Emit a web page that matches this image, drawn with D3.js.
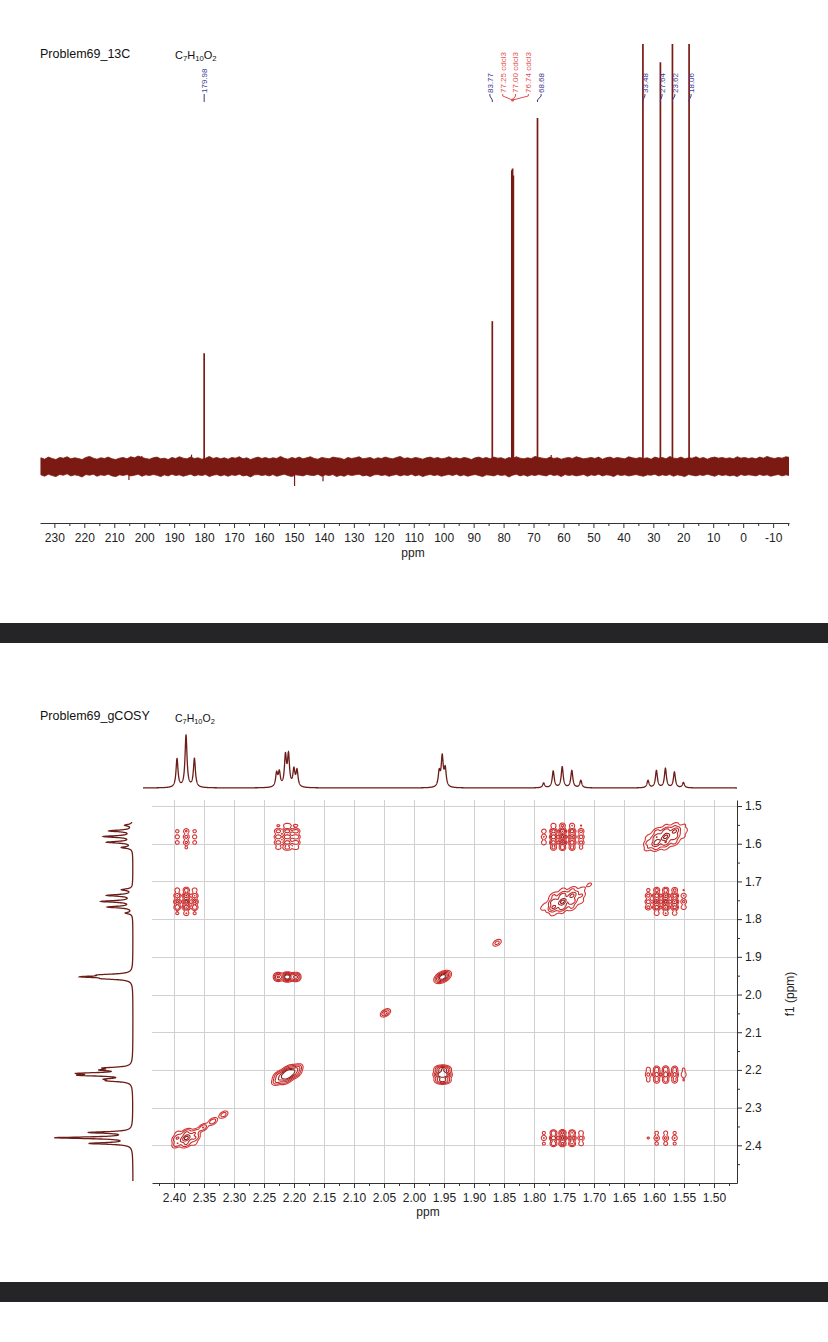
<!DOCTYPE html>
<html>
<head>
<meta charset="utf-8">
<script src="https://cdn.jsdelivr.net/npm/d3@7"></script>
<style>
  body { margin: 0; background: #fff; }
  svg { display: block; font-family: "Liberation Sans", Arial, Helvetica, sans-serif; }
</style>
</head>
<body>
<svg id="chart" width="828" height="1342"></svg>
<script>
// ---- 13C spectrum data ----
const carbonPpm = [179.98, 83.77, 77.25, 77.00, 76.74, 68.68, 33.48, 27.64, 23.62, 18.06];
const carbonInt = [32.5, 41.7, 85.0, 85.5, 83.5, 100, 200, 116, 190, 180];
const carbonSolvent = [false, false, true, true, true, false, false, false, false, false];
const carbonTicks = [230, 220, 210, 200, 190, 180, 170, 160, 150, 140, 130, 120, 110, 100, 90, 80, 70, 60, 50, 40, 30, 20, 10, 0, -10];

// noise envelope, one value every 1.25 ppm starting at 234.5 ppm
const noiseStart = 234.5;
const noiseStep = 1.25;
const noiseUpper = [
  2.5, 2.1, 2.7, 2.3, 2.0, 2.6, 2.4, 2.8, 2.2, 2.5,
  2.3, 2.0, 2.6, 2.9, 2.4, 2.1, 2.5, 2.3, 2.7, 2.2,
  2.0, 2.4, 2.6, 2.2, 2.8, 2.5, 3.0, 2.6, 2.3, 2.1,
  2.5, 2.7, 2.2, 2.4, 2.0, 2.6, 2.3, 2.8, 2.4, 2.2,
  2.7, 2.3, 2.5, 2.1, 2.4, 2.9, 2.3, 2.6, 2.2, 2.5,
  2.1, 2.6, 2.4, 2.8, 2.2, 2.5, 2.0, 2.4, 2.7, 2.3,
  2.6, 2.2, 2.5, 2.3, 2.9, 2.4, 2.1, 2.6, 2.3, 2.7,
  2.2, 2.5, 2.8, 2.3, 2.1, 2.6, 2.4, 2.2, 2.7, 2.5,
  2.4, 2.0, 2.6, 2.3, 2.5, 2.8, 2.2, 2.4, 2.6, 2.1,
  2.5, 2.3, 2.7, 2.4, 2.2, 2.6, 2.9, 2.3, 2.5, 2.2,
  2.6, 2.4, 2.1, 2.5, 2.7, 2.3, 2.6, 2.2, 2.4, 2.8,
  2.3, 2.5, 2.2, 2.6, 2.4, 2.0, 2.5, 2.7, 2.3, 2.6,
  2.2, 2.7, 2.4, 2.5, 2.1, 2.6, 2.3, 2.8, 2.4, 2.2,
  2.5, 2.3, 2.9, 2.6, 2.4, 2.2, 2.7, 2.3, 2.5, 2.1,
  2.4, 2.6, 2.3, 2.8, 2.5, 2.2, 2.4, 2.6, 2.3, 2.7,
  2.1, 2.5, 2.7, 2.3, 2.6, 2.4, 2.2, 2.8, 2.5, 2.3,
  2.6, 2.3, 2.5, 2.1, 2.7, 2.4, 2.6, 2.2, 2.9, 2.4,
  2.3, 2.7, 2.2, 2.5, 2.4, 2.8, 2.3, 2.6, 2.1, 2.5,
  2.7, 2.4, 2.6, 2.3, 2.5, 2.2, 2.8, 2.4, 2.6, 2.3,
  2.5, 2.2, 2.7, 2.4, 2.9, 2.5, 2.3, 2.6, 2.4, 2.8,
  2.6
];
const noiseLower = [
  -2.4, -2.8, -2.2, -2.6, -2.9, -2.3, -2.5, -2.1, -2.7, -2.4,
  -2.6, -3.0, -2.3, -2.5, -2.2, -2.8, -2.4, -2.6, -2.2, -2.7,
  -2.9, -2.4, -2.6, -2.3, -2.7, -2.5, -2.2, -2.8, -2.4, -2.6,
  -2.3, -2.5, -2.9, -2.4, -2.7, -2.2, -2.6, -2.4, -2.8, -2.5,
  -2.2, -2.7, -2.4, -2.6, -2.3, -2.9, -2.5, -2.3, -2.7, -2.4,
  -2.8, -2.4, -2.6, -2.2, -2.7, -2.5, -3.0, -2.4, -2.3, -2.6,
  -2.4, -2.7, -2.3, -2.8, -2.5, -2.2, -2.6, -2.9, -2.4, -2.5,
  -2.7, -2.3, -2.5, -2.6, -2.2, -2.8, -2.4, -2.6, -2.3, -2.9,
  -2.5, -2.8, -2.3, -2.6, -2.4, -2.2, -2.7, -2.5, -2.9, -2.4,
  -2.3, -2.6, -2.4, -2.8, -2.5, -2.3, -2.7, -2.4, -2.6, -2.2,
  -2.7, -2.4, -2.9, -2.5, -2.3, -2.6, -2.4, -2.8, -2.5, -2.3,
  -2.6, -2.2, -2.7, -2.4, -2.8, -2.5, -2.3, -2.6, -2.9, -2.4,
  -2.5, -2.7, -2.3, -2.6, -2.4, -3.0, -2.5, -2.2, -2.7, -2.4,
  -2.8, -2.4, -2.6, -2.3, -2.5, -2.7, -2.2, -2.6, -2.4, -2.9,
  -2.3, -2.6, -2.4, -2.7, -2.5, -2.3, -2.8, -2.4, -2.6, -2.2,
  -2.7, -2.4, -2.5, -2.9, -2.3, -2.6, -2.4, -2.7, -2.5, -2.3,
  -2.6, -2.8, -2.4, -2.5, -2.2, -2.7, -2.4, -2.6, -2.3, -2.8,
  -2.4, -2.6, -2.9, -2.3, -2.5, -2.7, -2.4, -2.6, -2.2, -2.5,
  -2.8, -2.3, -2.6, -2.4, -2.7, -2.5, -2.9, -2.3, -2.6, -2.4,
  -2.5, -2.7, -2.3, -2.6, -2.4, -2.8, -2.5, -2.3, -2.7, -2.4,
  -2.6
];
const noiseSpikePpm = [205.1, 200.8, 184.2, 149.8, 140.3, 64.1];
const noiseSpikeInt = [-3.9, 3.0, 3.4, -5.6, -4.2, 3.3];

// ---- 1H multiplets (COSY projections) ----
const hA_ppm = [2.395, 2.380, 2.366];
const hA_int = [0.55, 1.00, 0.55];
const hB_ppm = [2.229, 2.2245, 2.2143, 2.2092, 2.2002, 2.1950];
const hB_int = [0.26, 0.27, 0.58, 0.59, 0.32, 0.31];
const hC_ppm = [1.958, 1.953, 1.948];
const hC_int = [0.28, 0.57, 0.34];
const hD_ppm = [1.784, 1.768, 1.753, 1.737, 1.722];
const hD_int = [0.09, 0.32, 0.40, 0.33, 0.14];
const hE_ppm = [1.610, 1.596, 1.581, 1.566, 1.551];
const hE_int = [0.14, 0.33, 0.37, 0.30, 0.10];

// cross peaks: f2 multiplet, f1 multiplet, strength
const crossF2 = ["D", "E", "A", "D", "E", "B", "B", "C", "A", "E"];
const crossF1 = ["E", "D", "D", "A", "B", "E", "C", "B", "E", "A"];
const crossAmp = [1.0, 1.0, 1.0, 1.0, 0.45, 0.55, 0.8, 0.8, 0.3, 0.28];
const diagIds = ["A", "B", "C", "D", "E"];
const diagAmp = [1.4, 1.2, 0.8, 1.4, 1.4];
const diagSingletPpm = [2.352, 2.336, 2.318, 2.048, 1.862, 1.708];
const diagSingletAmp = [0.45, 0.4, 0.35, 0.55, 0.3, 0.12];

const cosyF2Ticks = [2.40, 2.35, 2.30, 2.25, 2.20, 2.15, 2.10, 2.05, 2.00, 1.95, 1.90, 1.85, 1.80, 1.75, 1.70, 1.65, 1.60, 1.55, 1.50];
const cosyF1Ticks = [1.5, 1.6, 1.7, 1.8, 1.9, 2.0, 2.1, 2.2, 2.3, 2.4];

const svg = d3.select("#chart");
const ink13 = "#7a1a13";
const ink1h = "#6b1d17";
const labelBlue = "#3a3a8f";
const labelRed = "#e05050";
const axisInk = "#222";

function addFormula(x, y, size) {
  const t = svg.append("text").attr("x", x).attr("y", y).attr("font-size", size).attr("fill", "#111");
  const parts = [["C", false], ["7", true], ["H", false], ["10", true], ["O", false], ["2", true]];
  let low = false;
  parts.forEach(([s, sub]) => {
    const sp = t.append("tspan").text(s).attr("font-size", sub ? size * 0.7 : size);
    if (sub && !low) { sp.attr("dy", size * 0.2); low = true; }
    else if (!sub && low) { sp.attr("dy", -size * 0.2); low = false; }
  });
}

// ================= 13C =================
const x13 = d3.scaleLinear().domain([234.8, -15.3]).range([40, 789]);
const y13 = d3.scaleLinear().domain([0, 100]).range([466.5, 118]);

svg.append("text").attr("x", 40).attr("y", 58).attr("font-size", 12.5).attr("fill", "#111").text("Problem69_13C");
addFormula(175, 59, 11);

svg.append("clipPath").attr("id", "clip13")
  .append("rect").attr("x", 40).attr("y", 44).attr("width", 749).attr("height", 460);
const g13 = svg.append("g").attr("clip-path", "url(#clip13)");

const noisePpm = noiseUpper.map((d, i) => noiseStart - noiseStep * i);
g13.append("path")
  .datum(noiseUpper)
  .attr("d", d3.area()
    .x((d, i) => x13(noisePpm[i]))
    .y0((d, i) => y13(noiseLower[i]))
    .y1((d) => y13(d)))
  .attr("fill", ink13)
  .attr("stroke", ink13)
  .attr("stroke-width", 0.8);

g13.selectAll("line.spike")
  .data(noiseSpikePpm)
  .join("line")
  .attr("class", "spike")
  .attr("x1", (d) => x13(d)).attr("x2", (d) => x13(d))
  .attr("y1", y13(0))
  .attr("y2", (d, i) => y13(noiseSpikeInt[i]))
  .attr("stroke", ink13).attr("stroke-width", 1.2);

g13.selectAll("line.peak")
  .data(carbonPpm)
  .join("line")
  .attr("class", "peak")
  .attr("x1", (d) => x13(d)).attr("x2", (d) => x13(d))
  .attr("y1", y13(0))
  .attr("y2", (d, i) => y13(carbonInt[i]))
  .attr("stroke", ink13).attr("stroke-width", 1.7);

// peak labels, pushed apart so they do not overlap
function spreadLabels(xs, gap) {
  const pos = xs.slice();
  for (let it = 0; it < 300; it++) {
    for (let i = 1; i < pos.length; i++) {
      const d = pos[i] - pos[i - 1];
      if (d < gap) {
        const s = (gap - d) / 2;
        pos[i - 1] -= s;
        pos[i] += s;
      }
    }
  }
  return pos;
}
const peakX = carbonPpm.map((d) => x13(d));
const labelX = spreadLabels(peakX, 12.8).map((d, i) => (i === 0 ? d : d + 2));
const labelBase = 93;

carbonPpm.forEach((ppm, i) => {
  const colour = carbonSolvent[i] ? labelRed : labelBlue;
  const txt = carbonSolvent[i] ? `${ppm.toFixed(2)} cdcl3` : ppm.toFixed(2);
  svg.append("text")
    .attr("transform", `translate(${labelX[i] + 2.9},${labelBase}) rotate(-90)`)
    .attr("font-size", 8)
    .attr("fill", colour)
    .text(txt);
  const endX = carbonSolvent[i] ? x13(77.0) : peakX[i];
  svg.append("path")
    .attr("d", `M${labelX[i]},${labelBase + 1}L${labelX[i]},${labelBase + 3}L${endX},${labelBase + 7}` +
      (carbonSolvent[i] ? "" : `L${endX},${labelBase + 9}`))
    .attr("fill", "none")
    .attr("stroke", colour)
    .attr("stroke-width", 1);
});
svg.append("circle").attr("cx", x13(77.0)).attr("cy", labelBase + 7).attr("r", 1.6).attr("fill", labelRed);

svg.append("g").attr("transform", "translate(0,523)")
  .call(d3.axisBottom(x13).tickValues(carbonTicks).tickFormat((d) => String(d)).tickSize(5).tickSizeOuter(0).tickPadding(5));
svg.append("g").attr("transform", "translate(0,523)")
  .call(d3.axisBottom(x13).tickValues(d3.range(225, -16, -10)).tickFormat("").tickSize(3).tickSizeOuter(0))
  .select(".domain").remove();
svg.append("text").attr("x", 413).attr("y", 557).attr("text-anchor", "middle")
  .attr("font-size", 12).attr("fill", axisInk).text("ppm");

// ================= separators =================
svg.append("rect").attr("x", 0).attr("y", 623).attr("width", 828).attr("height", 20).attr("fill", "#252527");
svg.append("rect").attr("x", 0).attr("y", 1282).attr("width", 828).attr("height", 20).attr("fill", "#252527");

// ================= COSY =================
svg.append("text").attr("x", 40).attr("y", 720).attr("font-size", 12.5).attr("fill", "#111").text("Problem69_gCOSY");
addFormula(175, 722, 10.5);

const cosyLeft = 152, cosyRight = 737, cosyTop = 800, cosyBottom = 1183;
const xF2 = d3.scaleLinear().domain([2.4367, 1.4617]).range([cosyLeft, cosyRight]);
const yF1 = d3.scaleLinear().domain([1.484, 2.5]).range([cosyTop, cosyBottom]);

const multiplets = {
  A: { ppm: hA_ppm, int: hA_int },
  B: { ppm: hB_ppm, int: hB_int },
  C: { ppm: hC_ppm, int: hC_int },
  D: { ppm: hD_ppm, int: hD_int },
  E: { ppm: hE_ppm, int: hE_int }
};
const allLines = [];
Object.values(multiplets).forEach((m) => m.ppm.forEach((p, i) => allLines.push([p, m.int[i]])));
function spectrum(ppm, hwhm) {
  let s = 0;
  allLines.forEach(([p, h]) => { const d = ppm - p; s += h * hwhm * hwhm / (d * d + hwhm * hwhm); });
  return s;
}

// grid lines
const gridG = svg.append("g").attr("stroke", "#d0d0d0").attr("stroke-width", 1);
gridG.selectAll("line.v").data(cosyF2Ticks).join("line").attr("class", "v")
  .attr("x1", (d) => Math.round(xF2(d)) + 0.5).attr("x2", (d) => Math.round(xF2(d)) + 0.5)
  .attr("y1", cosyTop).attr("y2", cosyBottom);
gridG.selectAll("line.h").data(cosyF1Ticks).join("line").attr("class", "h")
  .attr("y1", (d) => Math.round(yF1(d)) + 0.5).attr("y2", (d) => Math.round(yF1(d)) + 0.5)
  .attr("x1", cosyLeft).attr("x2", cosyRight);

// top projection
const yTop = d3.scaleLinear().domain([0, 1]).range([788, 736]);
const topPts = d3.range(xF2.invert(143), 1.4617, -0.0002).map((p) => [xF2(p), yTop(spectrum(p, 0.002))]);
svg.append("path").attr("d", d3.line()(topPts)).attr("fill", "none").attr("stroke", ink1h).attr("stroke-width", 1.3);

// left projection
const xLeft = d3.scaleLinear().domain([0, 1]).range([133, 57]);
const leftPts = d3.range(yF1.invert(822), yF1.invert(1181), 0.0003).map((p) => [xLeft(spectrum(p, 0.0026)), yF1(p)]);
svg.append("path").attr("d", d3.line()(leftPts)).attr("fill", "none").attr("stroke", ink1h).attr("stroke-width", 1.3);

// 2D contour map built from the multiplet lines
const spots = [];
const diagVec = (() => {
  const dx = xF2(2) - xF2(1), dy = yF1(2) - yF1(1);
  const n = Math.hypot(dx, dy);
  return [dx / n, dy / n];
})();
crossF2.forEach((a, k) => {
  const m2 = multiplets[a], m1 = multiplets[crossF1[k]];
  const max2 = d3.max(m2.int), max1 = d3.max(m1.int);
  const wide2 = a === "C" ? 3.2 : 1.9;
  m2.ppm.forEach((p2, i) => m1.ppm.forEach((p1, j) => {
    spots.push({ f2: p2, f1: p1, amp: crossAmp[k] * (m2.int[i] / max2) * (m1.int[j] / max1),
      ux: 1, uy: 0, su: wide2, sv: 1.65 });
  }));
});
const diagWeight = [1, 0.6, 0.25];
diagIds.forEach((a, k) => {
  const m = multiplets[a];
  const mx = d3.max(m.int);
  m.ppm.forEach((p2, i) => m.ppm.forEach((p1, j) => {
    const w = diagWeight[Math.abs(i - j)] || 0;
    if (!w) return;
    spots.push({ f2: p2, f1: p1, amp: diagAmp[k] * w * (m.int[i] / mx) * (m.int[j] / mx),
      ux: diagVec[0], uy: diagVec[1], su: 3.4, sv: 1.9 });
  }));
});
diagSingletPpm.forEach((p, k) => {
  spots.push({ f2: p, f1: p, amp: diagSingletAmp[k], ux: diagVec[0], uy: diagVec[1], su: 3.0, sv: 1.8 });
});

const cell = 0.5;
const nx = Math.round((cosyRight - cosyLeft) / cell);
const ny = Math.round((cosyBottom - cosyTop) / cell);
const values = new Float64Array(nx * ny);
spots.forEach((s) => {
  const cx = xF2(s.f2), cy = yF1(s.f1);
  const reach = 4 * Math.max(s.su, s.sv);
  const i0 = Math.max(0, Math.floor((cx - reach - cosyLeft) / cell));
  const i1 = Math.min(nx - 1, Math.ceil((cx + reach - cosyLeft) / cell));
  const j0 = Math.max(0, Math.floor((cy - reach - cosyTop) / cell));
  const j1 = Math.min(ny - 1, Math.ceil((cy + reach - cosyTop) / cell));
  for (let j = j0; j <= j1; j++) {
    const dy = cosyTop + j * cell - cy;
    for (let i = i0; i <= i1; i++) {
      const dx = cosyLeft + i * cell - cx;
      const u = dx * s.ux + dy * s.uy;
      const v = -dx * s.uy + dy * s.ux;
      values[j * nx + i] += s.amp * Math.exp(-0.5 * (u * u / (s.su * s.su) + v * v / (s.sv * s.sv)));
    }
  }
});
const levels = [0.09, 0.22, 0.45, 0.8, 1.2];
const levelColour = d3.scaleOrdinal().domain(levels).range(["#d43434", "#cc2e2e", "#bd2727", "#a52121", "#8c1c1c"]);
const contours = d3.contours().size([nx, ny]).thresholds(levels)(Array.from(values));
const contourPath = d3.geoPath(d3.geoIdentity().scale(cell).translate([cosyLeft, cosyTop]));
svg.append("clipPath").attr("id", "clipCosy")
  .append("rect").attr("x", cosyLeft).attr("y", cosyTop).attr("width", cosyRight - cosyLeft).attr("height", cosyBottom - cosyTop);
svg.append("g").attr("clip-path", "url(#clipCosy)")
  .selectAll("path")
  .data(contours)
  .join("path")
  .attr("d", contourPath)
  .attr("fill", "none")
  .attr("stroke", (d) => levelColour(d.value))
  .attr("stroke-width", 1.1);

// axes
svg.append("g").attr("transform", `translate(0,${cosyBottom})`)
  .call(d3.axisBottom(xF2).tickValues(cosyF2Ticks).tickFormat(d3.format(".2f")).tickSize(5).tickSizeOuter(0).tickPadding(5));
svg.append("g").attr("transform", `translate(0,${cosyBottom})`)
  .call(d3.axisBottom(xF2).tickValues(d3.range(2.425, 1.47, -0.05)).tickFormat("").tickSize(3).tickSizeOuter(0))
  .select(".domain").remove();
svg.append("g").attr("transform", `translate(${cosyRight},0)`)
  .call(d3.axisRight(yF1).tickValues(cosyF1Ticks).tickFormat(d3.format(".1f")).tickSize(5).tickSizeOuter(0).tickPadding(3));
svg.append("g").attr("transform", `translate(${cosyRight},0)`)
  .call(d3.axisRight(yF1).tickValues(d3.range(1.55, 2.46, 0.1)).tickFormat("").tickSize(3).tickSizeOuter(0))
  .select(".domain").remove();
svg.append("text").attr("x", 428).attr("y", 1216).attr("text-anchor", "middle")
  .attr("font-size", 12).attr("fill", axisInk).text("ppm");
svg.append("text").attr("transform", "translate(794,994) rotate(-90)").attr("text-anchor", "middle")
  .attr("font-size", 12).attr("fill", axisInk).text("f1 (ppm)");

svg.selectAll(".tick text").attr("font-size", 12).attr("fill", axisInk).attr("font-family", null);
svg.selectAll(".tick line").attr("stroke", "#333");
svg.selectAll(".domain").attr("stroke", "#333");
</script>
</body>
</html>
